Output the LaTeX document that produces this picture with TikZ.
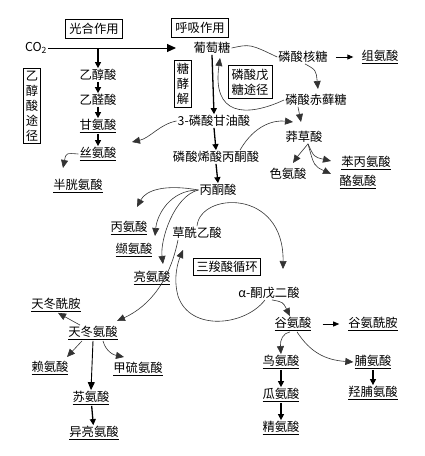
\documentclass[tikz,border=0pt]{standalone}
\usepackage{fontspec}
\setmainfont{Noto Sans CJK SC}
\usetikzlibrary{arrows.meta}
\begin{document}
\begin{tikzpicture}[x=1pt,y=-1pt,
  every node/.style={font=\fontsize{12.3}{13}\selectfont, inner sep=1pt},
  bx/.style={draw, line width=0.7pt, inner sep=4pt},
  vbx/.style={draw, line width=0.7pt, inner sep=2.5pt, align=center, font=\fontsize{12.3}{15}\selectfont},
  thin/.style={draw=black!80, line width=0.6pt, -{Triangle[length=8pt,width=7pt]}},
  thk/.style={line width=1.3pt, -{Triangle[length=6pt,width=6pt]}},
  shrt/.style={line width=0.8pt, -{Triangle[length=6pt,width=5pt]}},
  plain/.style={draw=black!80, line width=0.6pt}]
\useasboundingbox (0,0) rectangle (424,456);
% nodes
\node[bx] (gy) at (94,29) {光合作用};
\node[bx] (hx) at (200,28) {呼吸作用};
\node (co2) at (36,48) {CO\textsubscript{2}};
\node (glu) at (212,48) {葡萄糖};
\node (yc) at (98,75) {乙醇酸};
\node (yq) at (98,100) {乙醛酸};
\node (gan) at (98,126) {\underline{甘氨酸}};
\node (si) at (98,154) {\underline{丝氨酸}};
\node (bgs) at (78,186) {\underline{半胱氨酸}};
\node[vbx] (ybox) at (32,106) {乙\\醇\\酸\\途\\径};
\node[vbx] (tbox) at (183,84) {糖\\酵\\解};
\node[vbx, inner sep=3.5pt] (pbox) at (250,82) {磷酸戊\\糖途径};
\node (hetang) at (303,57) {磷酸核糖};
\node (zu) at (380,57) {\underline{组氨酸}};
\node (chi) at (316,100) {磷酸赤藓糖};
\node (pga) at (214,121) {3-磷酸甘油酸};
\node (pep) at (216,157) {磷酸烯酸丙酮酸};
\node (mang) at (304,137) {莽草酸};
\node (se) at (288,174) {色氨酸};
\node (ben) at (366,163) {\underline{苯丙氨酸}};
\node (lao) at (358,182) {\underline{酪氨酸}};
\node (bt) at (218,190) {丙酮酸};
\node (bing) at (129,228) {\underline{丙氨酸}};
\node (xie) at (134,250) {\underline{缬氨酸}};
\node (liang) at (152,278) {\underline{亮氨酸}};
\node (cxy) at (197,233) {草酰乙酸};
\node[bx, inner sep=3pt] (sbox) at (227,267) {三羧酸循环};
\node (akg) at (269,293) {α-酮戊二酸};
\node (tdx) at (56,305) {\underline{天冬酰胺}};
\node (tda) at (93,333) {\underline{天冬氨酸}};
\node (lai) at (50,368) {\underline{赖氨酸}};
\node (jl) at (138,369) {\underline{甲硫氨酸}};
\node (su) at (91,398) {\underline{苏氨酸}};
\node (yl) at (94,433) {\underline{异亮氨酸}};
\node (gu) at (293,324) {\underline{谷氨酸}};
\node (gux) at (373,324) {\underline{谷氨酰胺}};
\node (niao) at (281,362) {\underline{鸟氨酸}};
\node (pu) at (373,362) {\underline{脯氨酸}};
\node (gua) at (281,395) {\underline{瓜氨酸}};
\node (jing) at (281,428) {\underline{精氨酸}};
\node (qpu) at (373,393) {\underline{羟脯氨酸}};
% helper coordinates
\coordinate (j1) at (98,48);
\coordinate (tglu) at (176,48);
\coordinate (tbgs) at (63,168);
\coordinate (tgs) at (132,142);
\coordinate (tmang1) at (293,122);
\coordinate (tmang2) at (301,122);
\coordinate (tse) at (293,163);
\coordinate (tben) at (331,161);
\coordinate (tlao) at (331,174);
\coordinate (tbing) at (137,207);
\coordinate (txie) at (155,236);
\coordinate (tliang) at (163,264);
\coordinate (takg) at (283,269);
\coordinate (tcxy) at (183,250);
\coordinate (ttda) at (117,321);
\coordinate (tglu2) at (220,58);
\coordinate (tchi) at (318,89);
% connectors
\draw[line width=1pt, -{Triangle[length=9pt,width=8pt]}] (co2.east) -- (tglu);
\draw[thk] (j1) -- (yc);
\draw[thk] (yc) -- (yq);
\draw[thk] (yq) -- (gan);
\draw[thk] (gan) -- (si);
\draw[thin] (si.west) .. controls (66,153) .. (tbgs);
\draw[plain] (glu.east) .. controls (250,44) .. (hetang.west);
\draw[thin] ([xshift=2pt]hetang.south) .. controls (316,70) .. (tchi);
\draw[thin] (chi.west) .. controls (245,118) and (212,115) .. (tglu2);
\draw[thk] (glu.south) -- (pga.north);
\draw[thin] (pga.west) .. controls (160,124) and (150,138) .. (tgs);
\draw[thk] (pga.south) -- (pep.north);
\draw[thin] ([xshift=24pt]pep.north) .. controls (255,124) and (275,120) .. (tmang1);
\draw[thin] ([xshift=-18pt]chi.south) -- (tmang2);
\draw[thin] ([xshift=4pt]mang.south) .. controls (302,150) .. (tse);
\draw[thin] ([xshift=4pt]mang.south) .. controls (314,157) .. (tben);
\draw[thin] ([xshift=4pt]mang.south) .. controls (314,166) .. (tlao);
\draw[thk] (pep.south) -- (bt.north);
\draw[thin] (bt.west) .. controls (165,184) and (146,190) .. (tbing);
\draw[thin] (bt.west) .. controls (170,190) and (157,215) .. (txie);
\draw[thin] (bt.west) .. controls (174,196) and (160,240) .. (tliang);
\draw[thin] (cxy.north) .. controls (200,192) and (284,188) .. (takg);
\draw[thin] ([xshift=-4pt]akg.south) .. controls (245,326) and (190,332) .. (178,296) .. controls (173,278) and (178,262) .. (tcxy);
\draw[thin] ([xshift=-19pt]cxy.south) .. controls (170,280) and (150,306) .. (ttda);
\draw[thin] ([xshift=-13pt]tda.north) -- ([xshift=2pt]tdx.south);
\draw[thin] ([xshift=-11pt]tda.south) -- (67,357);
\draw[thin] ([xshift=10pt]tda.south) .. controls (106,352) and (114,355) .. (124,357);
\draw[line width=0.9pt, -{Triangle[length=8pt,width=7pt]}] (tda.south) -- (su.north);
\draw[thk] (su) -- (yl);
\draw[thin] ([xshift=3pt]akg.south) .. controls (283,302) .. ([xshift=-3pt]gu.north);
\draw[shrt, shorten <=10pt, shorten >=8pt] (gu.east) -- (gux.west);
\draw[thin] ([xshift=-3pt]gu.south) .. controls (283,333) and (280,340) .. (niao.north);
\draw[thin] ([xshift=4pt]gu.south) .. controls (310,352) and (325,360) .. (pu.west);
\draw[thk] (niao) -- (gua);
\draw[thk] (gua) -- (jing);
\draw[thk] (pu) -- (qpu);
\draw[shrt, shorten <=7pt, shorten >=7pt] (hetang.east) -- (zu.west);
\end{tikzpicture}
\end{document}
